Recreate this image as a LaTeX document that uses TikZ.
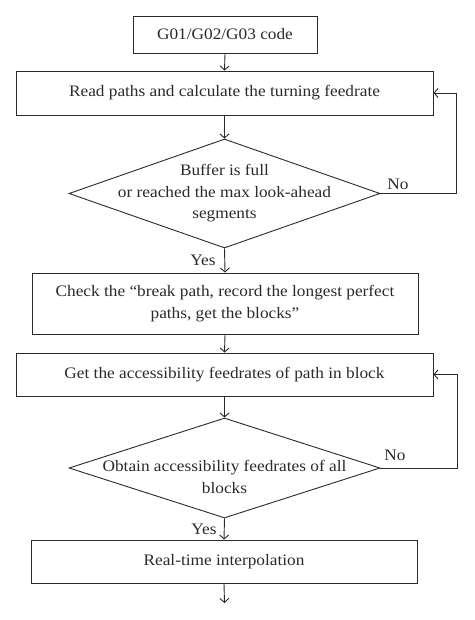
\documentclass[tikz,border=0pt]{standalone}
\usepackage{fontspec}
\setmainfont{Liberation Serif}[FakeStretch=1.08]
\usetikzlibrary{arrows.meta,shapes.geometric}
\definecolor{ln}{HTML}{2a2a2a}
\begin{document}
\begin{tikzpicture}[x=1pt,y=-1pt,
  every node/.style={font=\fontsize{16}{21.5}\selectfont, text=ln},
  box/.style={draw=ln, line width=0.9pt, inner sep=0pt, align=center},
  dia/.style={draw=ln, line width=0.9pt, diamond, inner sep=0pt, minimum width=311pt, minimum height=109pt},
  conn/.style={draw=ln, line width=0.9pt, -{Straight Barb[length=4pt,width=9pt,line width=0.9pt]}},
  lab/.style={inner sep=0pt}
]
\useasboundingbox (0,0) rectangle (474,620);
\node[box, minimum width=184pt, minimum height=37pt] (b1) at (225,34.5) {G01/G02/G03 code};
\node[box, minimum width=417pt, minimum height=44pt] (b2) at (224.5,93) {Read paths and calculate the turning feedrate};
\node[dia] (d1) at (224.5,193.5) {};
\node[align=center, lab] (t1) at (224.5,193.5) {Buffer is full\\or reached the max look-ahead\\segments};
\node[box, minimum width=386pt, minimum height=61pt] (b3) at (225,303.5) {Check the “break path, record the longest perfect\\paths, get the blocks”};
\node[box, minimum width=417pt, minimum height=43pt] (b4) at (224.5,374.5) {Get the accessibility feedrates of path in block};
\node[dia, minimum height=100pt] (d2) at (224.5,468) {};
\node[align=center, lab] (t2) at (224.5,477) {Obtain accessibility feedrates of all\\blocks};
\node[box, minimum width=386pt, minimum height=43pt] (b5) at (224,561.5) {Real-time interpolation};
\coordinate (end) at (224.5,603);
\coordinate (r1) at (456,193.5);
\coordinate (r2) at (457,468);
\draw[conn] (b1.south) -- (b2.north);
\draw[conn] (b2.south) -- (d1.north);
\draw[conn] (d1.south) -- (b3.north);
\draw[conn] (b3.south) -- (b4.north);
\draw[conn] (b4.south) -- (d2.north);
\draw[conn] (d2.south) -- (b5.north);
\draw[conn] (b5.south) -- (end);
\draw[conn] (d1.east) -- (r1) |- (b2.east);
\draw[conn] (d2.east) -- (r2) |- (b4.east);
\node[lab] (no1) at (398,184) {No};
\node[lab] (no2) at (395,455) {No};
\node[lab] (y1) at (203,260) {Yes};
\node[lab] (y2) at (204,529) {Yes};
\end{tikzpicture}
\end{document}
